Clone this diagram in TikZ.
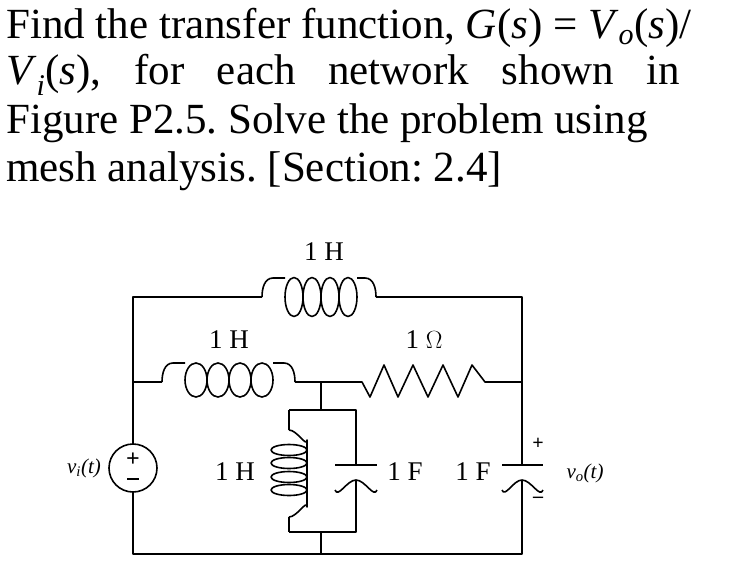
\documentclass[tikz,border=0pt]{standalone}
\usepackage{fontspec}
\setmainfont{Liberation Serif}
\frenchspacing
\tikzset{w/.style={line width=1.6pt},
 lab/.style={font=\fontsize{27}{28}\selectfont},
 txt/.style={anchor=west,inner sep=0pt,font=\fontsize{43}{46}\selectfont}}
\begin{document}
\begin{tikzpicture}[x=1pt,y=-1pt,line join=round]
\useasboundingbox (0,0) rectangle (743,560);
% text
\node[txt] (l1) at (6,28) {\hbox to 728pt{Find the transfer function, \textit{G}(\textit{s}) = \textit{V}\textsubscript{\textit{o}}(\textit{s})/\hss}};
\node[txt] (l2) at (6,75) {\hbox to 674pt{\textit{V}\textsubscript{\textit{i}}(\textit{s}),\hfill for\hfill each\hfill network\hfill shown\hfill in}};
\node[txt] (l3) at (6,123) {Figure P2.5. Solve the problem using};
\node[txt] (l4) at (6,171) {mesh analysis. [Section: 2.4]};
% coordinates
\coordinate (TL) at (133,297); \coordinate (TR) at (522,297);
\coordinate (ML) at (133,382); \coordinate (MR) at (522,382);
\coordinate (BL) at (133,554); \coordinate (BR) at (522,554);
\coordinate (J) at (321,382);
% wires
\draw[w] (262,297) -- (TL) -- (ML) -- (162,382);
\draw[w] (376,297) -- (TR) -- (MR) -- (497,382);
\draw[w] (ML) -- (133,444); \draw[w] (133,492) -- (BL) -- (BR) -- (522,481);
\draw[w] (TR) -- (522,465);
\draw[w] (295,382) -- (J) -- (355,382);
\draw[w] (J) -- (321,410) (289,410) -- (356,410) -- (356,465);
\draw[w] (356,481) -- (356,532) -- (289,532) (321,532) -- (321,554);
\draw[w] (289,410) -- (289,430) (289,517) -- (289,532);
% top inductor
\draw[w] (262,297) to[out=90,in=180] (273,278) -- (285,278);
\draw[w] (357,278) -- (365,278) to[out=0,in=90] (376,297);
\foreach \c in {294,312,330,348} \draw[w] (\c,297) ellipse (9 and 19.5);
% middle inductor
\draw[w] (162,382) to[out=90,in=180] (173,363) -- (185,363);
\draw[w] (273,363) -- (284,363) to[out=0,in=90] (295,382);
\foreach \c in {196,218,240,262} \draw[w] (\c,380) ellipse (11 and 17);
% vertical inductor
\draw[w] (289,430) to[out=0,in=-90] (307,440) -- (307,507) to[out=90,in=0] (289,517);
\foreach \c in {450,463,477,490} \draw[w] (289,\c) ellipse (18 and 5.5);
% resistor
\draw[w] (355,382) -- (362,382) -- (370,397) -- (384,365) -- (398,397) -- (413,365) -- (428,397) -- (443,365) -- (458,397) -- (472,365) -- (485,382) -- (497,382);
% capacitors
\draw[w] (335,465) -- (377,465); \draw[w] (335,490) to[out=-70,in=180] (356,480) to[out=0,in=-110] (377,490);
\draw[w] (502,465) -- (543,465); \draw[w] (502,490) to[out=-70,in=180] (522,480) to[out=0,in=-110] (543,490);
% source
\node[draw,circle,w,minimum size=48pt,inner sep=0pt] (src) at (133,468) {};
\node[font=\fontsize{24}{24}\selectfont\bfseries,inner sep=0pt] at (133,460) {+};
\draw[w] (127,479) -- (139,479);
% labels
\node[lab] (a) at (324,252) {1 H};
\node[lab] (b) at (229,340) {1 H};
\node[lab] (c) at (424,340) {1 $\Omega$};
\node[lab] (d) at (235,472) {1 H};
\node[lab] (e) at (405,472) {1 F};
\node[lab] (f) at (473,472) {1 F};
\node[font=\fontsize{20}{20}\selectfont\bfseries] at (538,444) {+};
\node[font=\fontsize{20}{20}\selectfont\bfseries] at (538,500) {\textendash};
\node[font=\fontsize{21}{21}\selectfont\itshape] at (585,473) {v\textsubscript{o}(t)};
\node[font=\fontsize{21}{21}\selectfont\itshape] at (84,468) {v\textsubscript{i}(t)};
\end{tikzpicture}
\end{document}
